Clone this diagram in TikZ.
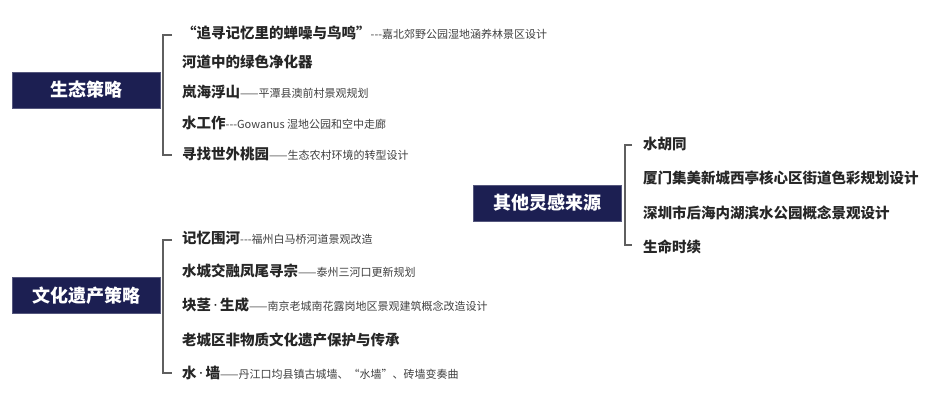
\documentclass[tikz,border=0pt]{standalone}
\usepackage{fontspec}
\usepackage{tikz}
\usetikzlibrary{positioning, calc}
\setmainfont{Noto Sans CJK SC}
\newfontfamily\latinfont{Noto Sans}
\definecolor{navy}{RGB}{28,31,82}
\definecolor{txt}{RGB}{38,38,38}
\definecolor{subtxt}{RGB}{64,64,64}
\definecolor{brk}{RGB}{95,95,95}
\newcommand{\subline}[1]{{\mdseries\fontsize{11}{13}\selectfont\color{subtxt}#1}}
\newcommand{\middot}{{\latinfont\kern2.5pt·\kern2.5pt}}
\tikzset{
  head/.style={fill=navy, draw=navy!75!white, text=white, font=\bfseries\fontsize{18}{20}\selectfont,
    minimum width=148pt, minimum height=36pt, inner sep=0pt},
  entry/.style={anchor=west, inner sep=0pt, text=txt, font=\bfseries\fontsize{14.5}{17}\selectfont},
  bracket/.style={draw=brk, line width=1.1pt}
}

\begin{document}
\begin{tikzpicture}[x=1pt,y=-1pt]
            \useasboundingbox (0,0) rectangle (928,410);
            % 生态策略
            \node[head] (eco) at (86,90) {生态策略};
            \node[entry] (e1) at (182,33) {“追寻记忆里的蝉噪与鸟鸣”\subline{-{}-{}-嘉北郊野公园湿地涵养林景区设计}};
            \node[entry] (e2) at (182,62) {河道中的绿色净化器};
            \node[entry] (e3) at (182,92) {岚海浮山\subline{——平潭县澳前村景观规划}};
            \node[entry] (e4) at (182,123) {水工作\subline{-{}-{}-Gowanus 湿地公园和空中走廊}};
            \node[entry] (e5) at (182,154) {寻找世外桃园\subline{——生态农村环境的转型设计}};
            \draw[bracket] ($(e1.west)+(-10,2)$) -| ($(e5.west)+(-19,1)$) -- ($(e5.west)+(-10,1)$);
            % 文化遗产策略
            \node[head] (cult) at (86,295.5) {文化遗产策略};
            \node[entry] (c1) at (182,238) {记忆围河\subline{-{}-{}-福州白马桥河道景观改造}};
            \node[entry] (c2) at (182,271) {水城交融凤尾寻宗\subline{——泰州三河口更新规划}};
            \node[entry] (c3) at (182,305) {块茎\middot 生成\subline{——南京老城南花露岗地区景观建筑概念改造设计}};
            \node[entry] (c4) at (182,340) {老城区非物质文化遗产保护与传承};
            \node[entry] (c5) at (182,373) {水\middot 墙\subline{——丹江口均县镇古城墙、“水墙”、砖墙变奏曲}};
            \draw[bracket] ($(c1.west)+(-10,2)$) -| ($(c5.west)+(-19,0)$) -- ($(c5.west)+(-10,0)$);
            % 其他灵感来源
            \node[head] (other) at (547.5,203) {其他灵感来源};
            \node[entry] (o1) at (643,144) {水胡同};
            \node[entry] (o2) at (643,178) {厦门集美新城西亭核心区街道色彩规划设计};
            \node[entry] (o3) at (643,213) {深圳市后海内湖滨水公园概念景观设计};
            \node[entry] (o4) at (643,247) {生命时续};
            \draw[bracket] ($(o1.west)+(-11,1)$) -| ($(o4.west)+(-18,-2)$) -- ($(o4.west)+(-11,-2)$);
        \end{tikzpicture}
\end{document}
